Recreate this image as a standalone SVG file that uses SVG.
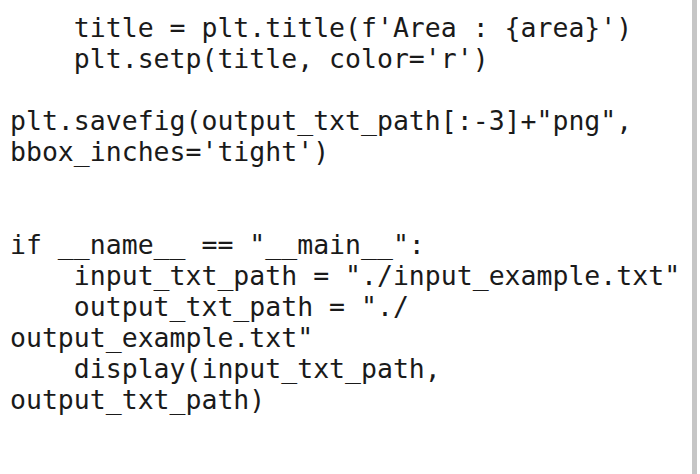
<svg xmlns="http://www.w3.org/2000/svg" width="700" height="474" viewBox="0 0 700 474">
<style>text{font-family:"DejaVu Sans Mono","Liberation Mono",monospace;font-size:26.5px;fill:#1a1a1a;white-space:pre}</style>
<rect width="700" height="474" fill="#fff"/>
<rect x="692" y="0" width="5" height="474" fill="#c6c6c6"/>
<g xml:space="preserve">
<text x="10" y="37">    title = plt.title(f'Area : {area}')</text>
<text x="10" y="68">    plt.setp(title, color='r')</text>
<text x="10" y="130">plt.savefig(output_txt_path[:-3]+"png",</text>
<text x="10" y="161">bbox_inches='tight')</text>
<text x="10" y="254">if __name__ == "__main__":</text>
<text x="10" y="285">    input_txt_path = "./input_example.txt"</text>
<text x="10" y="316">    output_txt_path = "./</text>
<text x="10" y="347">output_example.txt"</text>
<text x="10" y="378">    display(input_txt_path,</text>
<text x="10" y="409">output_txt_path)</text>
</g>
</svg>
